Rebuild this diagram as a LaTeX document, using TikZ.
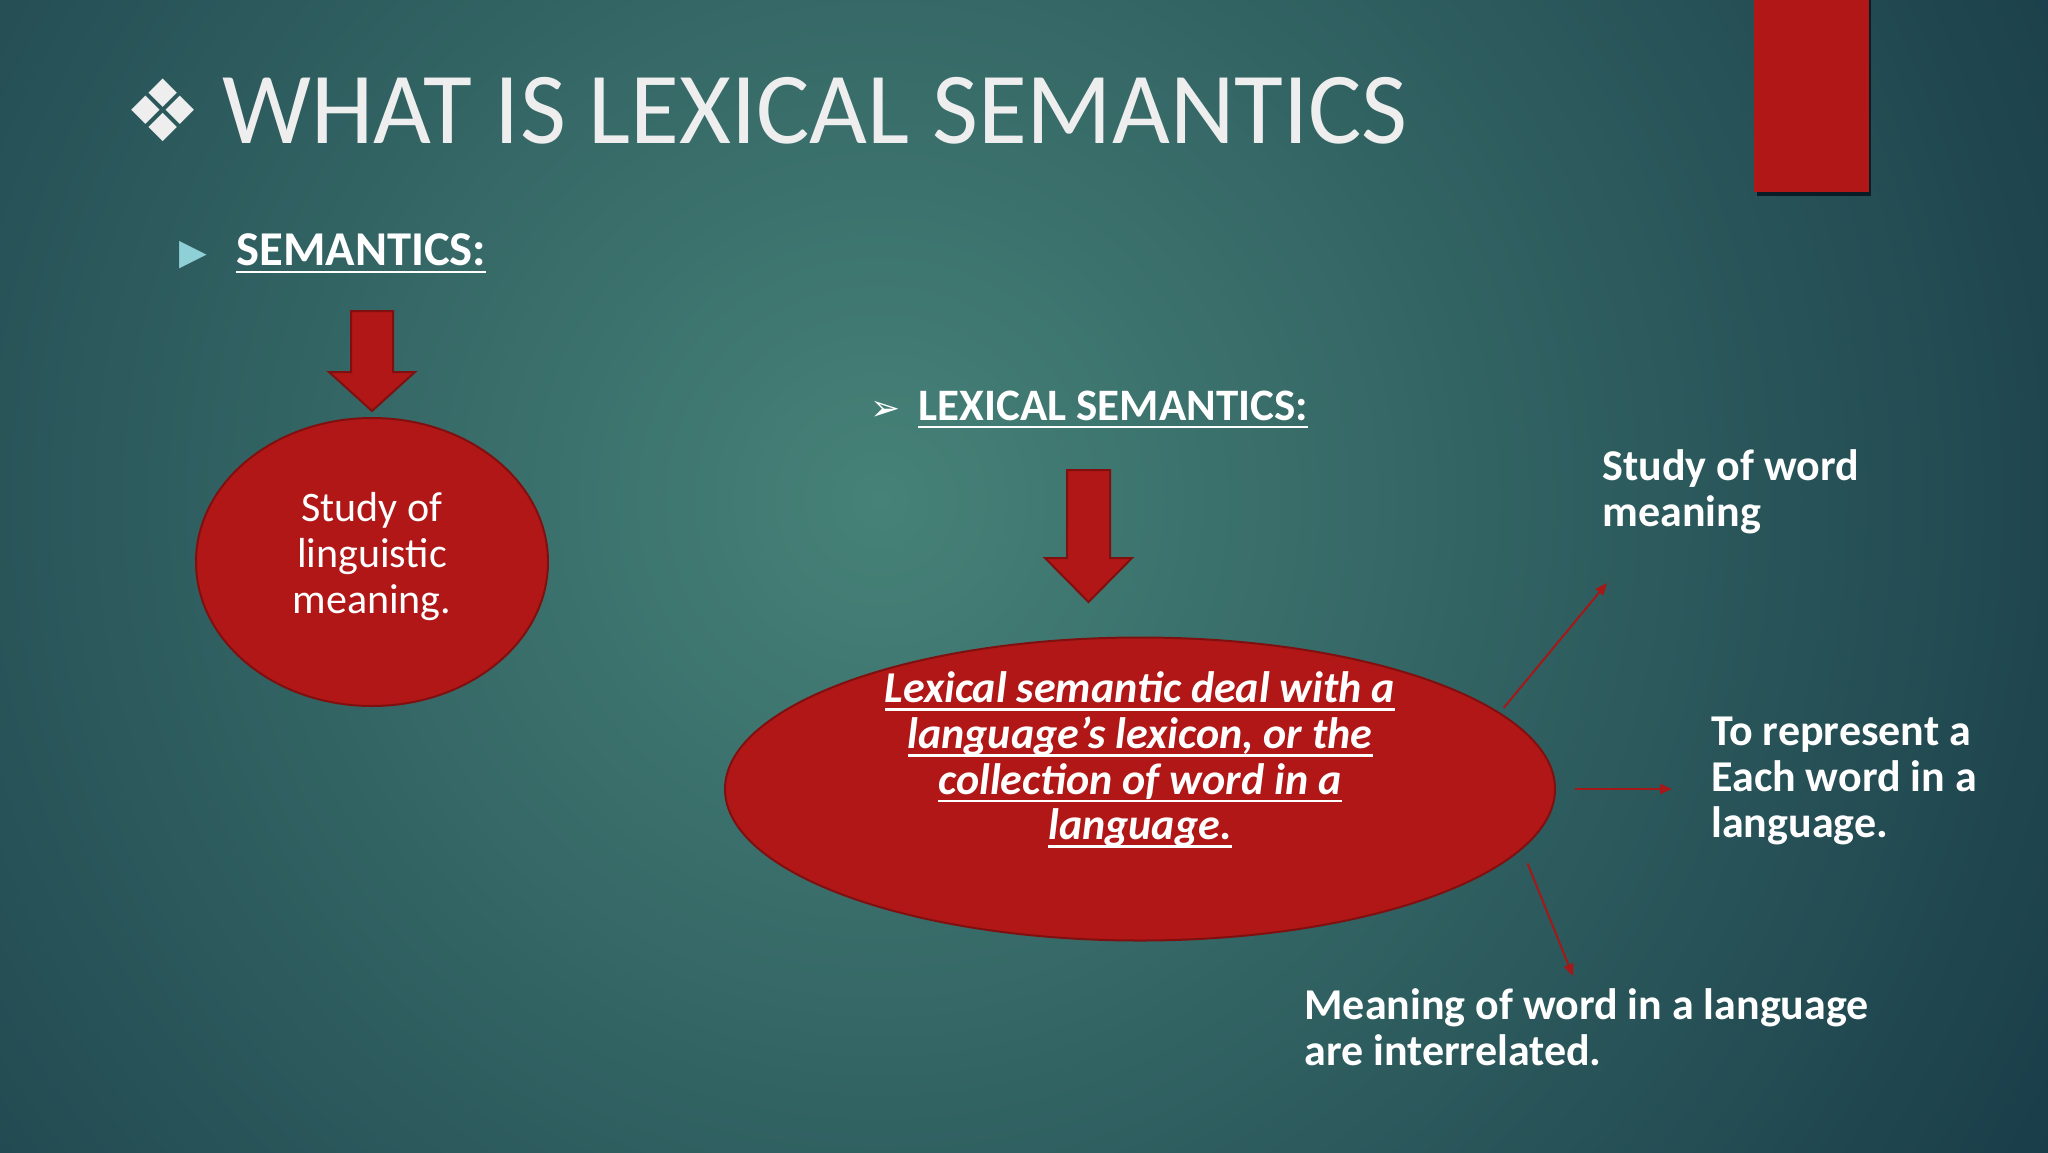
\documentclass[tikz,border=0pt]{standalone}
\usepackage{fontspec}
\setmainfont{Carlito}
\newfontfamily\titlefont[FakeStretch=0.98]{Carlito}
\newfontfamily\symfont{DejaVu Sans}
\newsavebox{\ulnbox}
\newcommand{\uln}[1]{\sbox{\ulnbox}{#1}\rlap{\rule[-4.2pt]{\wd\ulnbox}{1.4pt}}\usebox{\ulnbox}}
\usepackage{tikz}
\usetikzlibrary{shapes.geometric,arrows.meta,positioning}
\definecolor{slidered}{RGB}{176,23,22}
\definecolor{darkred}{RGB}{128,16,16}
\definecolor{linkred}{RGB}{165,24,24}
\definecolor{bgcentre}{RGB}{70,130,120}
\definecolor{bgedge}{RGB}{17,48,64}
\definecolor{titlegray}{RGB}{238,238,238}
\definecolor{bulletcyan}{RGB}{142,208,214}
\tikzstyle{bubble} = [draw=darkred, ellipse, fill=slidered, line width=1pt,
    inner sep=0pt]
\tikzstyle{blockarrow} = [draw=darkred, fill=slidered, line width=1pt,
    line join=miter]
\tikzstyle{head} = [anchor=base west, inner sep=0pt, text=white,
    font=\bfseries\fontsize{23.5}{28}\selectfont]
\tikzstyle{side} = [anchor=base west, inner sep=0pt, text=white, align=left,
    font=\bfseries\fontsize{22}{23}\selectfont]
\tikzstyle{link} = [-{Triangle[length=6pt,width=5pt]}, linkred, line width=1pt]

\begin{document}
\begin{tikzpicture}[x=0.5pt,y=-0.5pt]
  \useasboundingbox (0,0) rectangle (2048,1152);
  \clip (0,0) rectangle (2048,1152);
  \shade[inner color=bgcentre, outer color=bgedge] (880,500) circle (1600);
  % red tab at the top
  \fill[bgedge!60!black] (1757,0) rectangle (1871,196);
  \fill[slidered] (1754,0) rectangle (1869,192);
  % title
  \node [anchor=base west, inner sep=0pt, text=titlegray,
    font=\titlefont\fontsize{51}{55}\selectfont] (title) at (222,143)
  {WHAT IS LEXICAL SEMANTICS};
  \node [anchor=base west, inner sep=0pt, text=titlegray,
    font=\symfont\fontsize{43}{46}\selectfont] (tbullet) at (124,141) {❖};
  % semantics
  \node [anchor=base west, inner sep=0pt, text=bulletcyan,
    font=\symfont\fontsize{18}{22}\selectfont] (sbullet) at (179,264) {▶};
  \node [head, font=\bfseries\fontsize{24.3}{28}\selectfont] (sem)
    at (236,265) {\uln{SEMANTICS:}};
  \draw [blockarrow] (351,311) -- (393,311) -- (393,372) -- (415,372)
    -- (372,411) -- (329,372) -- (351,372) -- cycle;
  \node [bubble, minimum width=176pt, minimum height=144pt] (sembubble)
    at (372,562) {};
  \node [inner sep=0pt, text=white, align=center,
    font=\fontsize{21}{23}\selectfont] (semtext) at (372,557)
  {Study of\\linguistic\\meaning.};
  % lexical semantics
  \node [anchor=base west, inner sep=0pt, text=white,
    font=\symfont\fontsize{18}{20}\selectfont] (lbullet) at (870,420) {➢};
  \node [head, font=\bfseries\fontsize{22.5}{28}\selectfont] (lexhead)
    at (918,420) {\uln{LEXICAL SEMANTICS:}};
  \draw [blockarrow] (1067,470) -- (1110,470) -- (1110,558) -- (1132,558)
    -- (1088.5,602) -- (1045,558) -- (1067,558) -- cycle;
  \node [bubble, minimum width=415pt, minimum height=151.5pt] (lex)
    at (1140,789) {};
  \node [inner sep=0pt, text=white, align=center,
    font=\bfseries\itshape\fontsize{22}{22.8}\selectfont] (lextext) at (1140,760)
  {\uln{Lexical semantic deal with a}\\\uln{language’s lexicon, or the}\\
   \uln{collection of word in a}\\\uln{language.}};
  % the three notes
  \node [side] (wordnote) at (1602,526) {Study of word\\meaning};
  \node [side] (repnote) at (1711,837) {To represent a\\Each word in a\\language.};
  \node [side] (relnote) at (1304,1065)
  {Meaning of word in a language\\are interrelated.};
  \coordinate (wordend) at (1607,583);
  \coordinate (repend) at (1672,789);
  \coordinate (relend) at (1573,976);
  \draw [link, shorten <=3pt] (lex.12) -- (wordend);
  \draw [link, shorten <=9.5pt] (lex.east) -- (repend);
  \draw [link, shorten <=7.5pt] (lex.-9.7) -- (relend);
\end{tikzpicture}
\end{document}
